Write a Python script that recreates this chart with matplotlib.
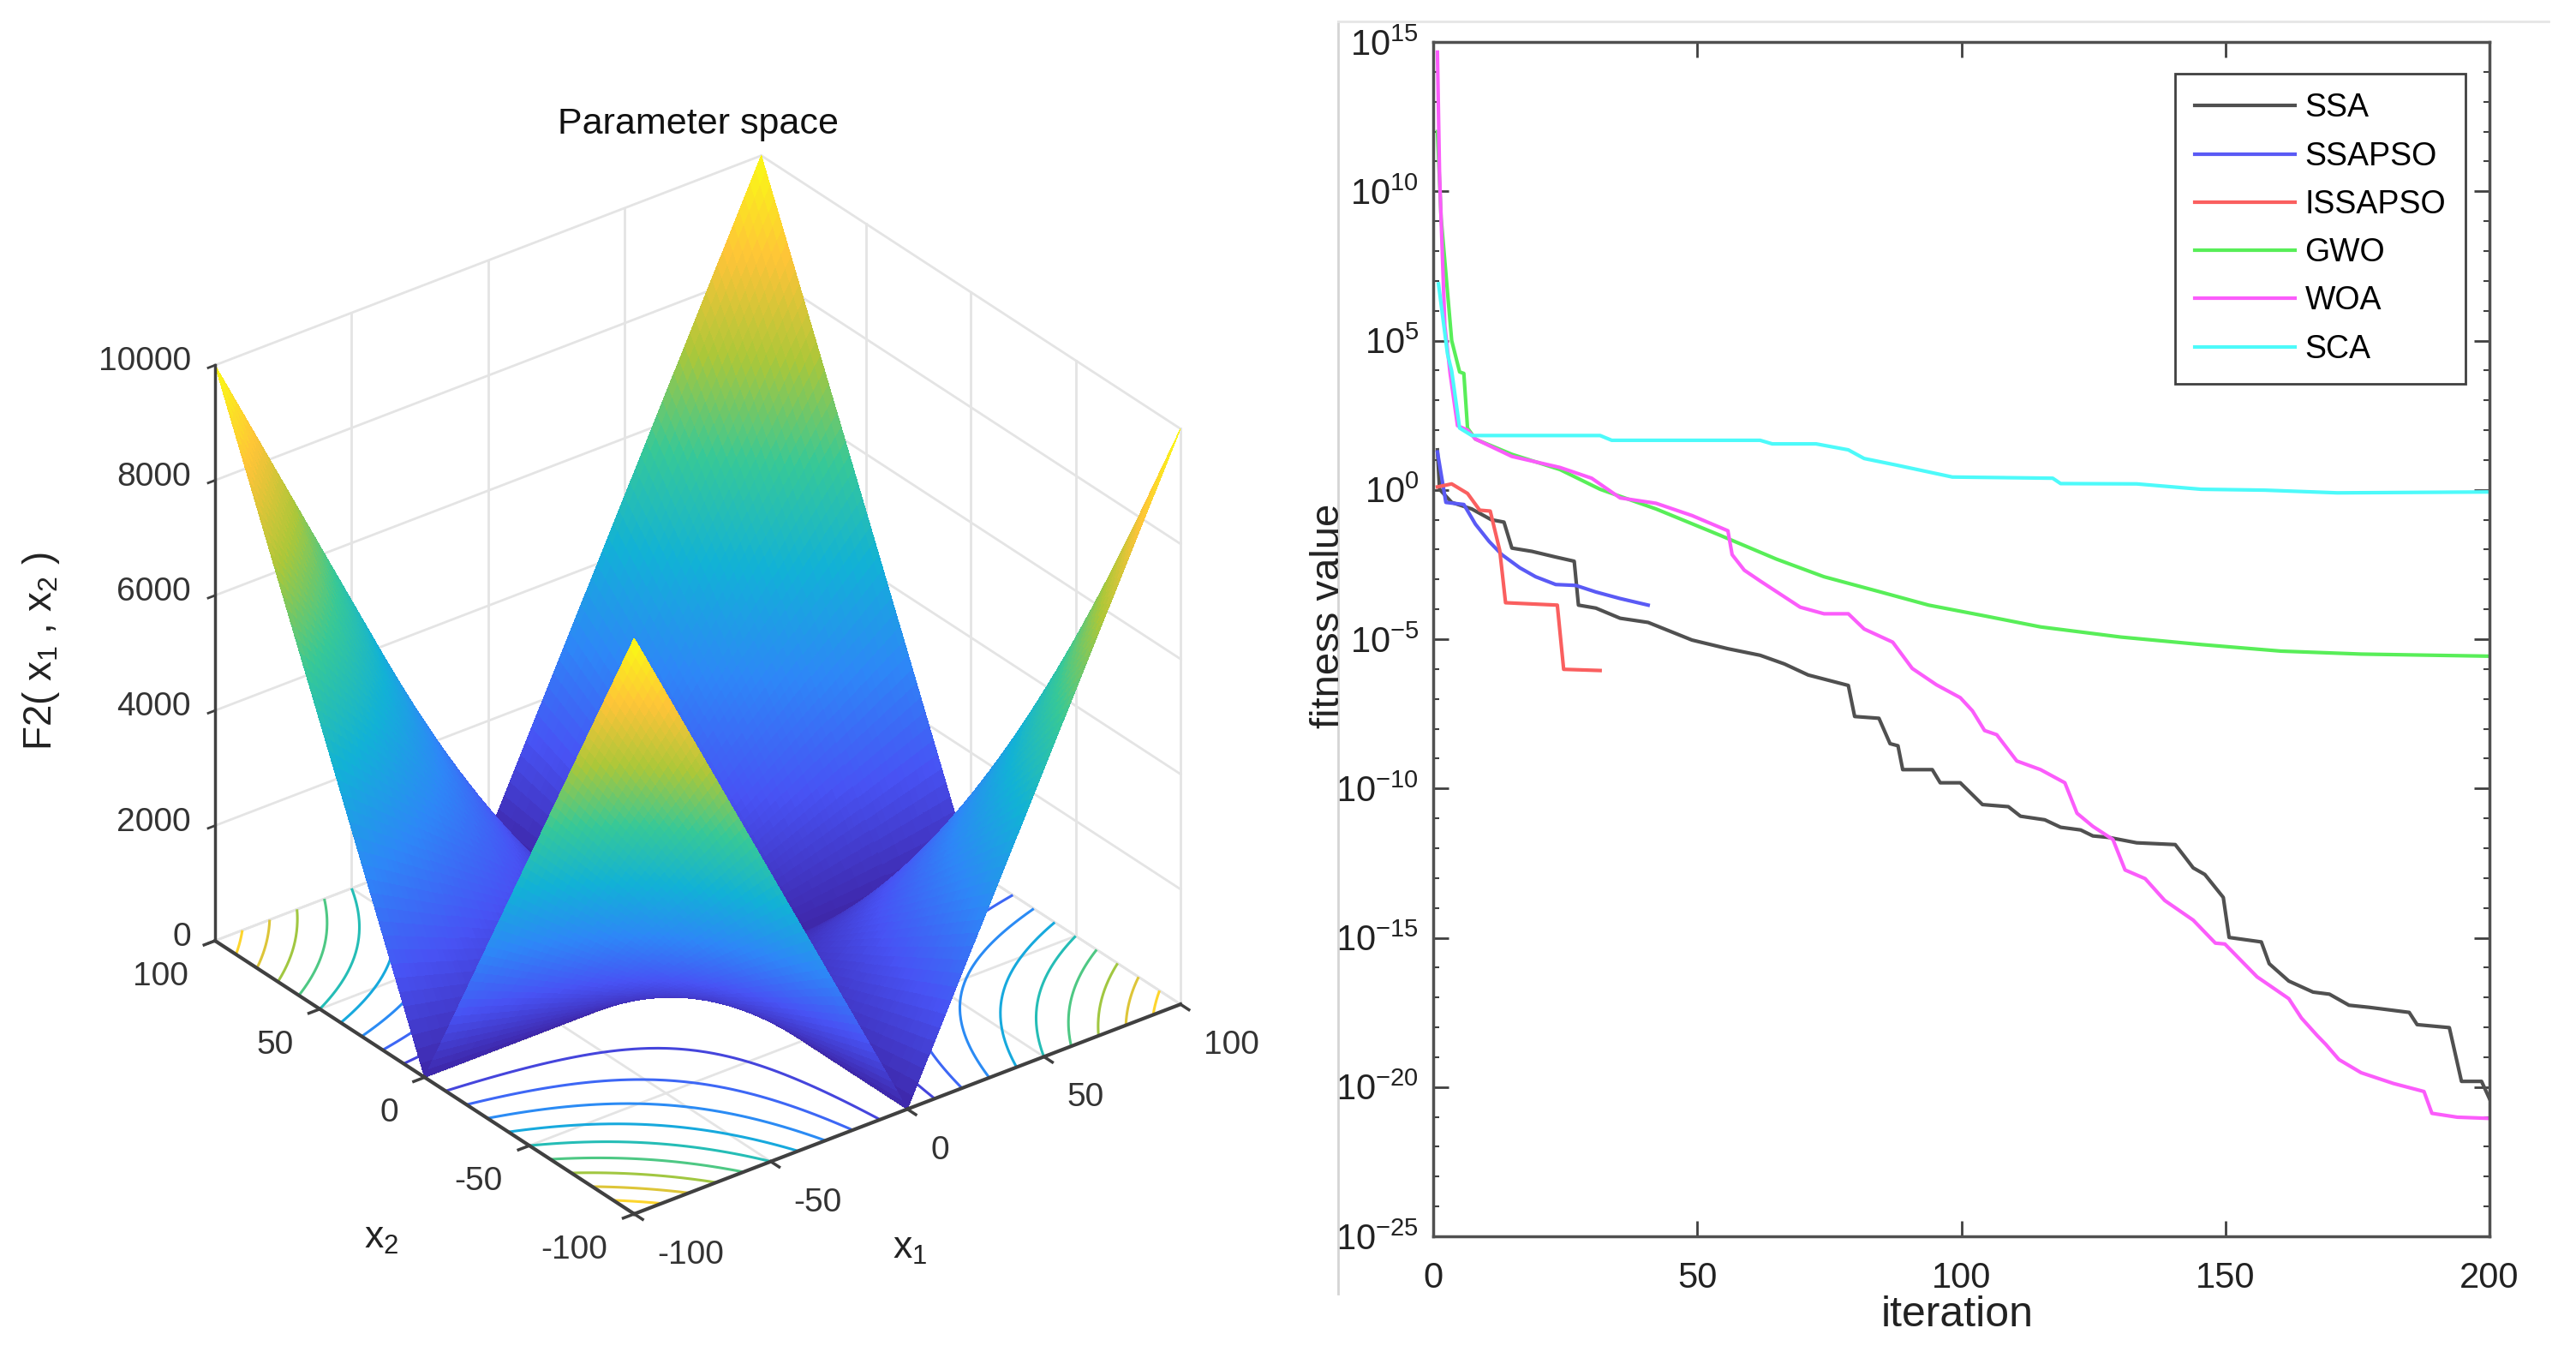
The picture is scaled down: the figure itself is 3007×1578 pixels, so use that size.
import numpy as np
import matplotlib
matplotlib.use("Agg")
import matplotlib.pyplot as plt
from matplotlib.colors import LinearSegmentedColormap
from matplotlib.lines import Line2D
from mpl_toolkits.mplot3d import proj3d

plt.rcParams["font.family"] = ["Liberation Sans", "DejaVu Sans"]
plt.rcParams["mathtext.fontset"] = "custom"
plt.rcParams["mathtext.rm"] = "Liberation Sans"
plt.rcParams["mathtext.it"] = "Liberation Sans"
plt.rcParams["mathtext.default"] = "regular"
plt.rcParams["axes.unicode_minus"] = False

# left panel: height along one edge of the surface, one value every 2 units of x
edge_profile = [100, 98, 96, 94, 92, 90, 88, 86, 84, 82, 80, 78, 76, 74, 72, 70, 68,
                66, 64, 62, 60, 58, 56, 54, 52, 50, 48, 46, 44, 42, 40, 38, 36, 34,
                32, 30, 28, 26, 24, 22, 20, 18, 16, 14, 12, 10, 8, 6, 4, 2, 0,
                2, 4, 6, 8, 10, 12, 14, 16, 18, 20, 22, 24, 26, 28, 30, 32, 34, 36,
                38, 40, 42, 44, 46, 48, 50, 52, 54, 56, 58, 60, 62, 64, 66, 68, 70,
                72, 74, 76, 78, 80, 82, 84, 86, 88, 90, 92, 94, 96, 98, 100]
contour_levels = [1000, 2000, 3000, 4000, 5000, 6000, 7000, 8000, 9000]
xy_ticks = [-100, -50, 0, 50, 100]
z_ticks = [0, 2000, 4000, 6000, 8000, 10000]
parula_colors = [(0.2422, 0.1504, 0.6603), (0.2810, 0.3228, 0.9579), (0.1786, 0.5289, 0.9682),
                 (0.0689, 0.6948, 0.8394), (0.2161, 0.7843, 0.5923), (0.6720, 0.7793, 0.2227),
                 (0.9970, 0.7659, 0.2199), (0.9769, 0.9839, 0.0805)]

# right panel: iteration, log10(fitness)
ssa_iter = [0.8, 1.2, 3.5, 7.3, 11, 13.4, 14.9, 18.7, 23.2, 26.7, 27.5, 30.8, 35.4, 40.7, 49, 55.8,
            61.9, 66.5, 71, 78.6, 79.8, 84.4, 86.5, 88, 88.9, 94.5, 96, 99.8, 104, 108.9, 111.2,
            115.8, 118.8, 122.6, 124.9, 127.9, 133.2, 140.5, 142.3, 143.9, 146.1, 149.6, 150.7,
            156.8, 158.3, 162, 166.6, 169.7, 173.4, 177.2, 184.8, 186.3, 192.4, 194.7, 198.5, 200]
ssa_log = [1.34, 0.02, -0.42, -0.64, -1.0, -1.08, -1.95, -2.06, -2.25, -2.39, -3.86, -3.96, -4.3, -4.44,
           -5.03, -5.32, -5.54, -5.83, -6.2, -6.55, -7.59, -7.65, -8.5, -8.57, -9.37, -9.37, -9.81, -9.81,
           -10.54, -10.61, -10.93, -11.05, -11.3, -11.39, -11.59, -11.64, -11.82, -11.88, -12.29, -12.66,
           -12.88, -13.65, -14.99, -15.14, -15.87, -16.45, -16.82, -16.89, -17.26, -17.33, -17.5, -17.91,
           -18.01, -19.81, -19.81, -20.39]
ssapso_iter = [0.8, 2.4, 5.8, 8, 10.6, 13, 16.4, 19.4, 23.2, 27, 30.8, 35.4, 40.7]
ssapso_log = [1.27, -0.42, -0.49, -1.15, -1.73, -2.17, -2.61, -2.91, -3.17, -3.2, -3.42, -3.64, -3.86]
issapso_iter = [0.8, 3.5, 6.5, 8.8, 10.8, 12.6, 13.7, 23.5, 24.7, 31.6]
issapso_log = [0.1, 0.2, -0.12, -0.68, -0.71, -2.03, -3.78, -3.86, -6.01, -6.05]
gwo_iter = [0.8, 1.5, 3.5, 5, 5.8, 6.5, 8, 14.9, 24, 31.6, 42.2, 54.3, 65, 74, 84.7, 93.8, 104.4, 115,
            130.2, 145.4, 160.5, 175.7, 200]
gwo_log = [12, 9.1, 5, 3.95, 3.9, 2.07, 1.7, 1.19, 0.68, 0.02, -0.64, -1.52, -2.32, -2.91, -3.42, -3.86,
           -4.22, -4.59, -4.93, -5.18, -5.4, -5.5, -5.57]
woa_iter = [0.8, 1.2, 2.2, 3.2, 4.6, 6.5, 8, 14.9, 24, 30, 35.4, 42.2, 49, 55.8, 56.6, 58.9, 61.9, 65.7,
            69.5, 74, 78.6, 81.6, 87, 90.7, 95.3, 99.8, 102.1, 104.4, 106.7, 110.5, 115, 119.6, 121.9,
            124.9, 128.7, 131, 134.8, 138.5, 143.9, 148.1, 149.9, 156, 162, 164.4, 167.4, 169, 171.5,
            175.7, 181.8, 187.6, 189.1, 193.9, 200]
woa_log = [14.66, 10.56, 5.5, 3.9, 2.15, 2.0, 1.7, 1.12, 0.75, 0.39, -0.27, -0.45, -0.86, -1.37, -2.17,
           -2.69, -3.05, -3.49, -3.93, -4.15, -4.15, -4.66, -5.1, -5.98, -6.53, -6.96, -7.4, -8.06, -8.2,
           -9.08, -9.37, -9.81, -10.83, -11.27, -11.71, -12.73, -13.02, -13.75, -14.41, -15.18, -15.21,
           -16.31, -17.04, -17.69, -18.28, -18.57, -19.08, -19.52, -19.88, -20.15, -20.88, -21.01, -21.05]
sca_iter = [1.0, 2.7, 3.5, 5, 7.3, 31.6, 33.8, 61.9, 64.2, 72.5, 78.6, 81.6, 87.7, 98.3, 117.3, 118.8,
            133.2, 145.4, 157.5, 171.2, 200]
sca_log = [6.9, 4.56, 3.98, 2.07, 1.82, 1.82, 1.66, 1.66, 1.54, 1.54, 1.34, 1.05, 0.83, 0.43, 0.39,
           0.21, 0.2, 0.02, -0.01, -0.1, -0.07]
x_ticks = [0, 50, 100, 150, 200]
y_exponents = [15, 10, 5, 0, -5, -10, -15, -20, -25]
minor_exponents = list(range(-25, 16))

W, H = 3007, 1578
fig = plt.figure(figsize=(W / 100, H / 100), dpi=100, facecolor="white")
axis_color = "#404040"
grid_color = "#e4e4e4"

# ---- left panel ----
parula = LinearSegmentedColormap.from_list("parula", parula_colors)
ax = fig.add_axes([0, 0, 1000 / W, 1000 / H], projection="3d", computed_zorder=False)
ax.patch.set_alpha(0)
ax.set_proj_type("ortho")
ax.view_init(elev=30, azim=-127.5)
ax.set_box_aspect((1, 1, 0.965))

grid_x = np.linspace(-100, 100, len(edge_profile))
X, Y = np.meshgrid(grid_x, grid_x)
Z = np.outer(edge_profile, edge_profile).astype(float)

for t in xy_ticks:
    ax.plot([t, t], [-100, 100], [0, 0], color=grid_color, lw=2, zorder=1)
    ax.plot([-100, 100], [t, t], [0, 0], color=grid_color, lw=2, zorder=1)
    ax.plot([t, t], [100, 100], [0, 10000], color=grid_color, lw=2, zorder=1)
    ax.plot([100, 100], [t, t], [0, 10000], color=grid_color, lw=2, zorder=1)
for z in z_ticks:
    ax.plot([-100, 100], [100, 100], [z, z], color=grid_color, lw=2, zorder=1)
    ax.plot([100, 100], [100, -100], [z, z], color=grid_color, lw=2, zorder=1)

ax.contour(X, Y, Z, levels=contour_levels, zdir="z", offset=0, cmap=parula,
           vmin=0, vmax=10000, linewidths=2.2, zorder=2)
ax.plot_surface(X, Y, Z, rcount=len(edge_profile), ccount=len(edge_profile), cmap=parula,
                vmin=0, vmax=10000, linewidth=0, antialiased=False, shade=False, zorder=3)

ax.plot([-100, -100], [100, -100], [0, 0], color=axis_color, lw=3, zorder=4)
ax.plot([-100, 100], [-100, -100], [0, 0], color=axis_color, lw=3, zorder=4)
ax.plot([-100, -100], [100, 100], [0, 10000], color=axis_color, lw=2.5, zorder=4)
for t in xy_ticks:
    ax.plot([t, t], [-100, -104], [0, 0], color=axis_color, lw=2.5, zorder=4)
    ax.plot([-100, -104], [t, t], [0, 0], color=axis_color, lw=2.5, zorder=4)
for z in z_ticks:
    ax.plot([-100, -102.5], [100, 100], [z, z], color=axis_color, lw=2, zorder=4)

ax.set_xlim(-100, 100)
ax.set_ylim(-100, 100)
ax.set_zlim(0, 10000)
ax.set_axis_off()


def to_px(x, y, z):
    xp, yp, _ = proj3d.proj_transform(x, y, z, ax.get_proj())
    return ax.transData.transform((xp, yp))


# fit the box onto the corners seen in the reference
side = 1000.0
side *= (1378 - 251) / (to_px(100, -100, 0)[0] - to_px(-100, 100, 0)[0])
ax.set_position([0, 0, side / W, side / H])
corner = to_px(-100, 100, 0)
ax.set_position([(251 - corner[0]) / W, (H - 1098 - corner[1]) / H, side / W, side / H])


def label3d(text, x, y, z, dx, dy, ha):
    px = to_px(x, y, z)
    fig.text((px[0] + dx) / W, (px[1] - dy) / H, text, fontsize=28, ha=ha, va="center",
             color="#333333")


for t in xy_ticks:
    label3d(str(t), t, -100, 0, 27, 48, "left")
    label3d(str(t), -100, t, 0, -31, 42, "right")
for z in z_ticks:
    label3d(str(z), -100, 100, z, -28, -4, "right")

fig.text(815 / W, 1 - 145 / H, "Parameter space", fontsize=31, ha="center", va="center", color="#111111")
fig.text(48 / W, 1 - 760 / H, r"F2( x$_1$ , x$_2$ )", fontsize=33, rotation=90, ha="center", va="center",
         color="#222222")
fig.text(1062 / W, 1 - 1457 / H, r"x$_1$", fontsize=32, ha="center", va="center", color="#222222")
fig.text(445 / W, 1 - 1445 / H, r"x$_2$", fontsize=32, ha="center", va="center", color="#222222")

# ---- right panel ----
ax2 = fig.add_axes([1673 / W, 1 - 1443 / H, (2906 - 1673) / W, (1443 - 49) / H])
series = [("SSA", ssa_iter, ssa_log, "#505050"),
          ("SSAPSO", ssapso_iter, ssapso_log, "#5a5af5"),
          ("ISSAPSO", issapso_iter, issapso_log, "#fa5f5f"),
          ("GWO", gwo_iter, gwo_log, "#58ee58"),
          ("WOA", woa_iter, woa_log, "#fb5cfb"),
          ("SCA", sca_iter, sca_log, "#4dfafa")]
for name, xs, ys, col in series:
    ax2.semilogy(xs, 10.0 ** np.array(ys), color=col, lw=3, label=name)

ax2.set_xlim(0, 200)
ax2.set_ylim(1e-25, 1e15)
ax2.set_xticks(x_ticks)
ax2.set_yticks([10.0 ** e for e in y_exponents])
ax2.set_yticklabels([r"$10^{%d}$" % e for e in y_exponents])
ax2.set_yticks([10.0 ** e for e in minor_exponents], minor=True)
ax2.tick_params(axis="y", which="minor", labelleft=False, length=5, width=1.5, direction="in",
                left=True, right=True, color=axis_color)
ax2.tick_params(axis="both", which="major", direction="in", top=True, right=True, length=13, width=2,
                labelsize=30, color=axis_color, labelcolor="#222222")
ax2.tick_params(axis="x", pad=21)
ax2.tick_params(axis="y", pad=12)
for sp in ax2.spines.values():
    sp.set_color("#505050")
    sp.set_linewidth(2.5)

leg = ax2.legend(loc="upper left", bbox_to_anchor=(0.7024, 0.9735), borderaxespad=0, fontsize=27,
                 handlelength=3.12, handletextpad=0.32, labelspacing=0.54, borderpad=0.6,
                 fancybox=False, framealpha=1, edgecolor="#404040")
leg.get_frame().set_linewidth(2)

fig.text(2285 / W, 1 - 1535 / H, "iteration", fontsize=36, ha="center", va="center", color="#222222")
fig.text(1551 / W, 1 - 719 / H, "fitness value", fontsize=34, rotation=90, ha="center", va="center",
         color="#222222")

# screenshot edge left over around the right panel
fig.add_artist(Line2D([1562 / W, 1562 / W], [1 - 25 / H, 1 - 1510 / H], color="#d4d4d4", lw=2))
fig.add_artist(Line2D([1562 / W, 2975 / W], [1 - 25 / H, 1 - 25 / H], color="#e6e6e6", lw=2))

fig.savefig("out.png", dpi=100)
